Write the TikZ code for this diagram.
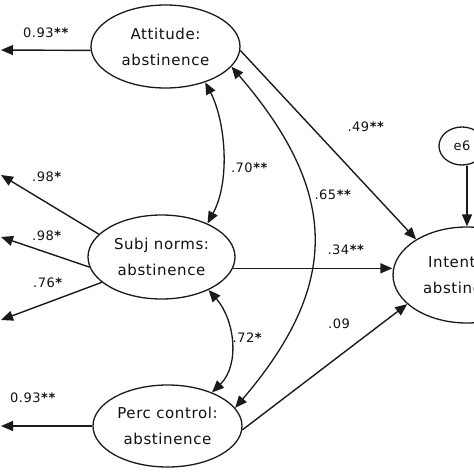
\documentclass[tikz,border=0pt]{standalone}
\usepackage{fontspec}
\setmainfont{DejaVu Sans}
\newfontfamily\diagfont[LetterSpace=4]{DejaVu Sans}
\usetikzlibrary{shapes.geometric, arrows.meta, positioning}
\definecolor{DarkLine}{HTML}{1A1A1A}
\definecolor{DarkText}{HTML}{111111}

\tikzset{
  latent/.style={ellipse, draw=DarkLine, line width=1.3pt, inner sep=0pt, align=center,
    text=DarkText, font=\diagfont\fontsize{15}{26}\selectfont,
    minimum width=149pt, minimum height=83pt},
  effect/.style={draw=DarkLine, line width=1.4pt, -{Triangle[length=12pt, width=10pt]}},
  corr/.style={draw=DarkLine, line width=1.3pt,
    {Triangle[length=12pt, width=10pt]}-{Triangle[length=12pt, width=10pt]}},
  coef/.style={font=\diagfont\fontsize{13}{15}\selectfont, text=DarkText, inner sep=0pt}
}
\newcommand{\sig}[1]{\textbf{#1}}

\begin{document}
\begin{tikzpicture}[x=1pt, y=-1pt]
  \useasboundingbox (0,0) rectangle (474,474);
  \clip (0,0) rectangle (474,474);

  % latent variables
  \node[latent] (att) at (165.5, 46.5) {Attitude:\\abstinence};
  \node[latent, minimum width=147pt, minimum height=84pt] (subj) at (161.5, 257) {Subj norms:\\abstinence};
  \node[latent, minimum height=82pt] (perc) at (167.5, 426) {Perc control:\\abstinence};
  \node[latent, minimum width=148pt, minimum height=96pt] (int) at (467, 275) {Intention:\\abstinence};
  \node[ellipse, draw=DarkLine, line width=1.3pt, inner sep=0pt, minimum width=46pt, minimum height=38pt,
        font=\diagfont\fontsize{13}{15}\selectfont, text=DarkText] (e6) at (462, 146) {e6};

  % free ends of the indicator arrows
  \coordinate (attOut) at (1, 50);
  \coordinate (subjOutA) at (1, 175);
  \coordinate (subjOutB) at (1, 237);
  \coordinate (subjOutC) at (1, 320);
  \coordinate (percOut) at (1, 426);

  % loadings
  \draw[effect] (att.183) -- (attOut);
  \draw[effect] (subj.160) -- (subjOutA);
  \draw[effect] (subj.188) -- (subjOutB);
  \draw[effect] (subj.203) -- (subjOutC);
  \draw[effect] (perc.west) -- (percOut);

  % paths to intention
  \draw[effect] (att.-3) -- (int.145);
  \draw[effect] (subj.-9) -- (subj.-9 -| int.west);
  \draw[effect] (perc.-3) -- (int.206);
  \draw[effect] (e6.south -| int.north) -- (int.north);

  % correlations
  \draw[corr] (att.-42) .. controls (225, 120) and (231, 180) .. (subj.36);
  \draw[corr] (subj.-35) .. controls (235, 320) and (240, 365) .. (perc.37);
  \draw[corr] (att.-17) .. controls (340, 193) and (340, 285) .. (perc.15);

  % coefficients
  \node[coef] (kAtt) at (46, 33) {0.93\sig{**}};
  \node[coef] (kSubjA) at (47, 177) {.98\sig{*}};
  \node[coef] (kSubjB) at (47, 236) {.98\sig{*}};
  \node[coef] (kSubjC) at (48, 283) {.76\sig{*}};
  \node[coef] (kPerc) at (33, 398) {0.93\sig{**}};
  \node[coef] (kAttInt) at (366, 127) {.49\sig{**}};
  \node[coef] (kAttSubj) at (249.5, 168) {.70\sig{**}};
  \node[coef] (kAttPerc) at (333, 195) {.65\sig{**}};
  \node[coef] (kSubjInt) at (346, 250) {.34\sig{**}};
  \node[coef] (kSubjPerc) at (247.5, 338) {.72\sig{*}};
  \node[coef] (kPercInt) at (339, 324) {.09};
\end{tikzpicture}
\end{document}
